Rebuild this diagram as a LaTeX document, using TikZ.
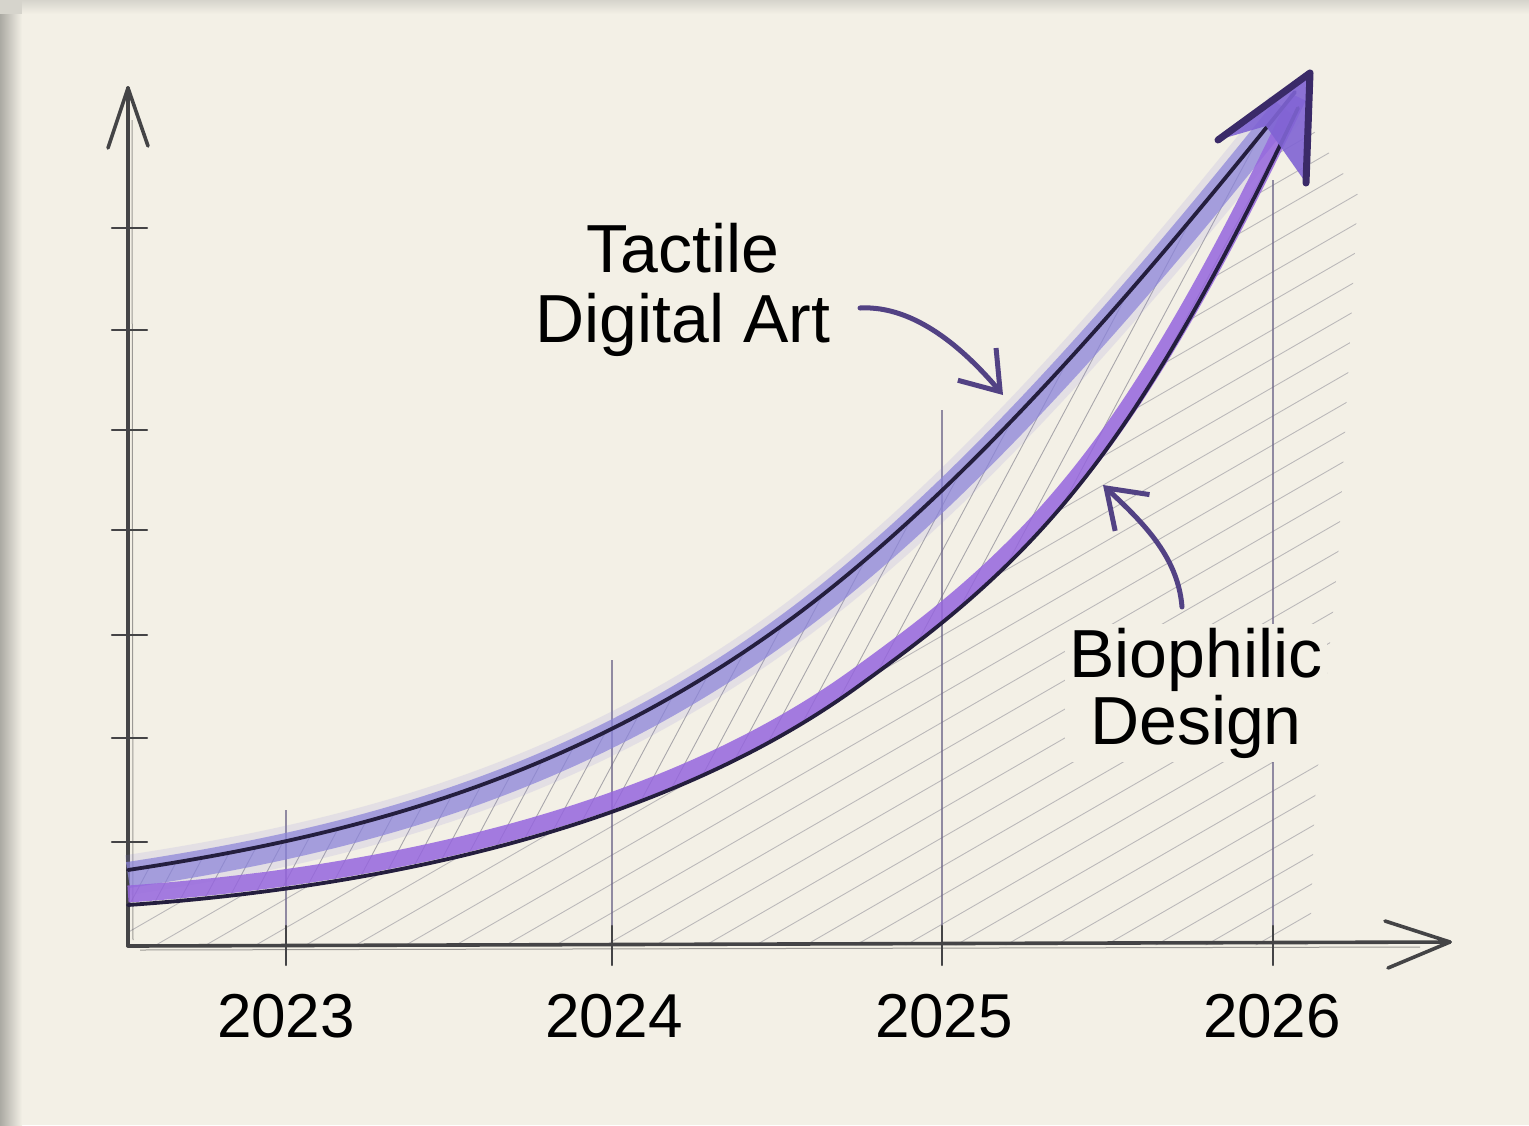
\documentclass[tikz,border=0pt]{standalone}
\usepackage{fontspec}
\setmainfont{Liberation Sans}
\usetikzlibrary{arrows.meta}
\definecolor{paper}{RGB}{243,240,230}
\definecolor{outer}{RGB}{214,212,204}
\definecolor{pencil}{RGB}{68,68,70}
\definecolor{inkdark}{RGB}{36,30,62}
\definecolor{lavender}{RGB}{140,132,218}
\definecolor{violet}{RGB}{150,102,222}
\definecolor{annot}{RGB}{82,66,132}
\definecolor{hatchc}{RGB}{120,118,132}
\definecolor{guidec}{RGB}{112,104,138}
\definecolor{headfill}{RGB}{128,100,212}
\definecolor{headink}{RGB}{58,42,104}
\tikzset{
  axisline/.style={draw=pencil, line width=3.6pt, line cap=round, line join=round},
  axistip/.style={draw=pencil, line width=3.6pt, line cap=round, line join=round},
  tickline/.style={draw=pencil, line width=2.4pt, line cap=round},
  guideline/.style={draw=guidec, line width=1.3pt, opacity=0.75},
  hatchline/.style={draw=hatchc, line width=0.9pt, opacity=0.45},
  hatchdense/.style={draw=hatchc, line width=0.9pt, opacity=0.6},
  bandup/.style={draw=lavender, line width=26pt, opacity=0.72},
  halo/.style={draw=lavender, line width=40pt, opacity=0.15},
  bandlow/.style={draw=violet, line width=17pt, opacity=0.85},
  inkline/.style={draw=inkdark, line width=3.8pt, line cap=round},
  annotarrow/.style={draw=annot, line width=5pt, line cap=round,
     -{Straight Barb[length=36pt,width=50pt,line width=5pt]}},
  lbl/.style={font=\fontsize{68}{70}\selectfont, text=black, align=center, inner sep=4pt},
  yearlbl/.style={font=\fontsize{62}{64}\selectfont, text=black, anchor=base, inner sep=0pt}
}
\begin{document}
\begin{tikzpicture}[x=1pt,y=-1pt]
\useasboundingbox (0,0) rectangle (1529,1125);
% paper
\fill[outer] (0,0) rectangle (1529,1125);
\fill[paper] (22,14) rectangle (1529,1125);
\shade[left color=outer!80!black, right color=paper] (0,14) rectangle (22,1125);
\shade[top color=outer, bottom color=paper] (22,0) rectangle (1529,14);

% hatching below / right of lower curve
\begin{scope}
\clip (128,905) .. controls (372,888) and (660,831) .. (860,685)
  .. controls (940,627) and (1020,566) .. (1100,458)
  .. controls (1166,369) and (1232,247) .. (1298,108)
  -- (1358,195) -- (1338,560) -- (1315,800) -- (1310,945) -- (128,945) -- cycle;
\foreach \i in {0,...,34} {
  \draw[hatchline] ({-320+\i*50},960) -- ++(1560,-900);
}
\end{scope}
% hatching between the curves
\begin{scope}
\clip (128,870) .. controls (345,837) and (563,783) .. (780,627)
  .. controls (952,503) and (1123,307) .. (1295,92)
  -- (1298,108) .. controls (1232,247) and (1166,369) .. (1100,458)
  .. controls (1020,566) and (940,627) .. (860,685)
  .. controls (660,831) and (372,888) .. (128,905) -- cycle;
\foreach \i in {0,...,40} {
  \draw[hatchdense] ({-20+\i*24},960) -- ++(480,-900);
}
\end{scope}

% vertical guide lines
\draw[guideline] (286,810) -- (286,945);
\draw[guideline] (612,660) -- (612,945);
\draw[guideline] (942,410) -- (942,945);
\draw[guideline] (1273,180) -- (1273,945);

% axes
\coordinate (origin) at (128,946);
\coordinate (ytip) at (128,88);
\coordinate (xtip) at (1450,942);
\draw[axisline] (origin) -- (ytip);
\draw[draw=pencil, line width=1pt, opacity=0.5] (133,940) -- (132,120);
\draw[axistip] (108,148) -- (ytip) -- (148,146);
\draw[axisline] (origin) -- (xtip);
\draw[draw=pencil, line width=1pt, opacity=0.5] (140,950) -- (1420,947);
\draw[axistip] (1385,921) -- (xtip) -- (1388,968);
% y ticks
\foreach \yy in {228,330,430,530,635,738,842} {
  \draw[tickline] (112,\yy) -- (147,\yy);
}
% x ticks
\foreach \xx in {286,612,942,1273} {
  \draw[tickline] (\xx,926) -- (\xx,965);
}

% bands
\draw[halo, yshift=-5pt] (128,870) .. controls (345,837) and (563,783) .. (780,627)
  .. controls (952,503) and (1123,307) .. (1285,104);
\draw[bandup, yshift=-5pt] (128,870) .. controls (345,837) and (563,783) .. (780,627)
  .. controls (952,503) and (1123,307) .. (1285,104);
\draw[bandlow, yshift=11pt] (128,905) .. controls (372,888) and (660,831) .. (860,685)
  .. controls (940,627) and (1020,566) .. (1100,458)
  .. controls (1166,369) and (1232,247) .. (1298,108);
% dark ink lines
\draw[inkline] (128,870) .. controls (345,837) and (563,783) .. (780,627)
  .. controls (952,503) and (1123,307) .. (1295,92);
\draw[inkline] (128,905) .. controls (372,888) and (660,831) .. (860,685)
  .. controls (940,627) and (1020,566) .. (1100,458)
  .. controls (1166,369) and (1232,247) .. (1298,108);

% big arrow head
\coordinate (bigtip) at (1310,73);
\fill[headfill, opacity=0.9] (bigtip) -- (1218,140) -- (1266,126) -- (1306,183) -- cycle;
\draw[draw=headink, line width=7pt, line cap=round, line join=round] (1218,140) -- (bigtip) -- (1306,183);

% labels
\node[lbl] (tda) at (683,290) {Tactile\\Digital Art};
\node[lbl, fill=paper] (bio) at (1196,693) {Biophilic\\[-3pt]Design};
\node[yearlbl] (y23) at (286,1037) {2023};
\node[yearlbl] (y24) at (614,1037) {2024};
\node[yearlbl] (y25) at (944,1037) {2025};
\node[yearlbl] (y26) at (1272,1037) {2026};

% annotation arrows
\coordinate (tdastart) at (860,308);
\coordinate (tdaend) at (1003,395);
\coordinate (biostart) at (1182,607);
\coordinate (bioend) at (1103,485);
\draw[annotarrow] (tdastart) .. controls (915,305) and (965,350) .. (tdaend);
\draw[annotarrow] (biostart) .. controls (1178,555) and (1140,520) .. (bioend);
\end{tikzpicture}
\end{document}
